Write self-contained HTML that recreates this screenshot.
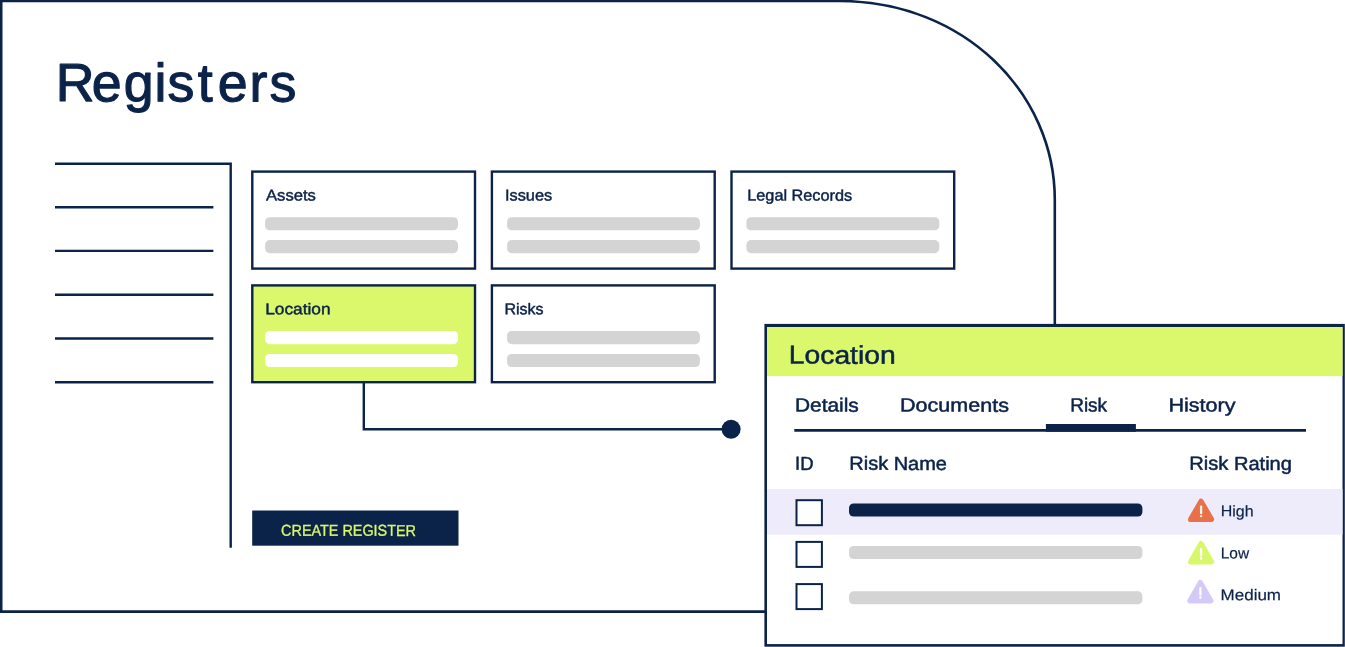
<!DOCTYPE html>
<html lang="en">
<head>
<meta charset="utf-8">
<title>Registers</title>
<style>
  html, body { margin: 0; padding: 0; background: #ffffff; }
  body { width: 1345px; height: 647px; overflow: hidden; }
  svg { display: block; will-change: transform; }
  text { font-family: "Liberation Sans", sans-serif; fill: #0b2349; stroke-linejoin: round; text-rendering: geometricPrecision; }
  .ln { stroke: #0b2349; stroke-width: 2.4; fill: none; }
</style>
</head>
<body>
<svg width="1345" height="647" viewBox="0 0 1345 647">
  <rect x="0" y="0" width="1345" height="647" fill="#ffffff"/>

  <!-- main window outline -->
  <path class="ln" d="M1.2 612 V1.0 H839.1 C964.5 1.0 1054.8 93.5 1054.8 199.7 V325" style="stroke-width:2.6"/>
  <path class="ln" d="M766 611.6 H0" style="stroke-width:2.7"/>

  <!-- title -->
  <text x="55.69 91.75 123.70 154.46 167.62 197.74 217.75 249.49 269.47" y="101.3" font-size="53.6" stroke="#0b2349" stroke-width="1.2" transform="rotate(0.1 182.5 101.3)">Registers</text>

  <!-- sidebar -->
  <path class="ln" d="M55 163.7 H230.7 V547.7"/>
  <path class="ln" d="M55 207.3 H213.4 M55 250.9 H213.4 M55 294.7 H213.4 M55 338.45 H213.4 M55 382.2 H213.4"/>

  <!-- cards row 1 -->
  <g>
    <rect x="252.30" y="171.60" width="222.70" height="97.00" fill="#ffffff" stroke="#0b2349" stroke-width="2.4"/>
    <text x="265.99" y="200.6" font-size="15.7" textLength="49.88" lengthAdjust="spacingAndGlyphs" stroke="#0b2349" stroke-width="0.45" transform="rotate(0.1 290.6 200.6)">Assets</text>
    <rect x="265.1" y="217.2" width="192.90" height="13.10" rx="4.6" fill="#d4d4d4"/>
    <rect x="265.1" y="240.1" width="192.90" height="13.10" rx="4.6" fill="#d4d4d4"/>
  </g>
  <g>
    <rect x="491.90" y="171.60" width="222.80" height="97.00" fill="#ffffff" stroke="#0b2349" stroke-width="2.4"/>
    <text x="505.02" y="200.6" font-size="15.7" textLength="47.14" lengthAdjust="spacingAndGlyphs" stroke="#0b2349" stroke-width="0.45" transform="rotate(0.1 529.0 200.6)">Issues</text>
    <rect x="507.1" y="217.2" width="192.80" height="13.10" rx="4.6" fill="#d4d4d4"/>
    <rect x="507.1" y="240.1" width="192.80" height="13.10" rx="4.6" fill="#d4d4d4"/>
  </g>
  <g>
    <rect x="731.50" y="171.60" width="222.70" height="97.00" fill="#ffffff" stroke="#0b2349" stroke-width="2.4"/>
    <text x="747.29" y="200.6" font-size="15.7" textLength="104.87" lengthAdjust="spacingAndGlyphs" stroke="#0b2349" stroke-width="0.45" transform="rotate(0.1 800.1 200.6)">Legal Records</text>
    <rect x="746.4" y="217.2" width="192.90" height="13.10" rx="4.6" fill="#d4d4d4"/>
    <rect x="746.4" y="240.1" width="192.90" height="13.10" rx="4.6" fill="#d4d4d4"/>
  </g>

  <!-- connector -->
  <path class="ln" d="M363.8 383 V429.2 H731"/>
  <circle cx="731.1" cy="429.2" r="9.5" fill="#0b2349"/>

  <!-- cards row 2 -->
  <g>
    <rect x="252.30" y="285.40" width="222.70" height="96.80" fill="#dbf86c" stroke="#0b2349" stroke-width="2.4"/>
    <text x="265.26" y="314.3" font-size="15.7" textLength="65.34" lengthAdjust="spacingAndGlyphs" stroke="#0b2349" stroke-width="0.45" transform="rotate(0.1 298.1 314.3)">Location</text>
    <rect x="265.1" y="331.0" width="192.90" height="13.20" rx="4.6" fill="#ffffff"/>
    <rect x="265.1" y="353.9" width="192.90" height="13.20" rx="4.6" fill="#ffffff"/>
  </g>
  <g>
    <rect x="491.90" y="285.40" width="222.80" height="96.80" fill="#ffffff" stroke="#0b2349" stroke-width="2.4"/>
    <text x="504.41" y="314.3" font-size="15.7" textLength="39.14" lengthAdjust="spacingAndGlyphs" stroke="#0b2349" stroke-width="0.45" transform="rotate(0.1 524.4 314.3)">Risks</text>
    <rect x="507.1" y="331.0" width="192.80" height="13.20" rx="4.6" fill="#d4d4d4"/>
    <rect x="507.1" y="353.9" width="192.80" height="13.20" rx="4.6" fill="#d4d4d4"/>
  </g>

  <!-- button -->
  <rect x="252.2" y="510.5" width="206.3" height="35.2" fill="#0b2349"/>
  <text x="281.12" y="535.8" font-size="15.8" textLength="134.89" lengthAdjust="spacingAndGlyphs" stroke="#dbf86c" stroke-width="0.3" style="fill:#dbf86c" transform="rotate(0.1 348.6 535.8)">CREATE REGISTER</text>

  <!-- detail panel -->
  <g>
    <rect x="764.4" y="323.9" width="580.4" height="322.8" fill="#0b2349"/>
    <rect x="767.0" y="327.0" width="575.5" height="317.1" fill="#ffffff"/>
    <rect x="767.0" y="327.0" width="575.5" height="49.1" fill="#dbf86c"/>
    <rect x="767.0" y="489.0" width="575.5" height="45.8" fill="#eeebfb"/>

    <text x="788.83" y="363.7" font-size="25.7" textLength="106.85" lengthAdjust="spacingAndGlyphs" stroke="#0b2349" stroke-width="0.5" transform="rotate(0.1 842.5 363.7)">Location</text>

    <text x="794.94" y="411.6" font-size="19.0" textLength="63.87" lengthAdjust="spacingAndGlyphs" stroke="#0b2349" stroke-width="0.5" transform="rotate(0.1 827.3 411.6)">Details</text>
    <text x="900.08" y="411.6" font-size="19.0" textLength="108.84" lengthAdjust="spacingAndGlyphs" stroke="#0b2349" stroke-width="0.5" transform="rotate(0.1 955.0 411.6)">Documents</text>
    <text x="1070.19" y="411.6" font-size="19.0" textLength="36.93" lengthAdjust="spacingAndGlyphs" stroke="#0b2349" stroke-width="0.5" transform="rotate(0.1 1089.5 411.6)">Risk</text>
    <text x="1168.48" y="411.6" font-size="19.0" textLength="67.01" lengthAdjust="spacingAndGlyphs" stroke="#0b2349" stroke-width="0.5" transform="rotate(0.1 1202.8 411.6)">History</text>

    <path class="ln" d="M794.3 430.35 H1306" style="stroke-width:2.8"/>
    <rect x="1045.9" y="424" width="90" height="7.75" fill="#0b2349"/>

    <text x="795.05" y="469.9" font-size="19.0" textLength="18.38" lengthAdjust="spacingAndGlyphs" stroke="#0b2349" stroke-width="0.5" transform="rotate(0.1 804.6 469.9)">ID</text>
    <text x="849.31" y="469.9" font-size="19.0" textLength="97.62" lengthAdjust="spacingAndGlyphs" stroke="#0b2349" stroke-width="0.5" transform="rotate(0.1 898.5 469.9)">Risk Name</text>
    <text x="1189.30" y="469.9" font-size="19.0" textLength="102.64" lengthAdjust="spacingAndGlyphs" stroke="#0b2349" stroke-width="0.5" transform="rotate(0.1 1240.8 469.9)">Risk Rating</text>

    <!-- rows -->
    <rect x="796.5" y="500.2" width="25.4" height="25" fill="#ffffff" stroke="#0b2349" stroke-width="2"/>
    <rect x="849" y="503.5" width="293.4" height="13" rx="4.6" fill="#0b2349"/>
    <rect x="796.5" y="541.9" width="25.4" height="25" fill="#ffffff" stroke="#0b2349" stroke-width="2"/>
    <rect x="849" y="546" width="293.4" height="13" rx="4.6" fill="#d4d4d4"/>
    <rect x="796.5" y="584.1" width="25.4" height="25" fill="#ffffff" stroke="#0b2349" stroke-width="2"/>
    <rect x="849" y="591.3" width="293.4" height="13" rx="4.6" fill="#d4d4d4"/>

    <!-- rating icons -->
    <g transform="translate(1188.0 498.6)">
      <path d="M13.05 2.6 L23.5 20.8 H2.6 Z" fill="#e8714a" stroke="#e8714a" stroke-width="5.2" stroke-linejoin="round"/>
      <rect x="11.95" y="7.0" width="2.3" height="8.6" rx="0.9" fill="#fff6ea"/>
      <circle cx="13.1" cy="17.5" r="1.2" fill="#fff6ea"/>
    </g>
    <text x="1220.69" y="516.4" font-size="15.7" textLength="32.85" lengthAdjust="spacingAndGlyphs" stroke="#0b2349" stroke-width="0.2" transform="rotate(0.1 1237.2 516.4)">High</text>
    <g transform="translate(1188.0 541.0)">
      <path d="M13.05 2.6 L23.5 20.8 H2.6 Z" fill="#d8f76a" stroke="#d8f76a" stroke-width="5.2" stroke-linejoin="round"/>
      <rect x="11.95" y="7.0" width="2.3" height="8.6" rx="0.9" fill="#ffffff"/>
      <circle cx="13.1" cy="17.5" r="1.2" fill="#ffffff"/>
    </g>
    <text x="1220.73" y="558.5" font-size="15.7" textLength="28.33" lengthAdjust="spacingAndGlyphs" stroke="#0b2349" stroke-width="0.2" transform="rotate(0.1 1235.6 558.5)">Low</text>
    <g transform="translate(1187.3 580.0)">
      <path d="M13.05 2.6 L23.5 20.8 H2.6 Z" fill="#d5caf7" stroke="#d5caf7" stroke-width="5.2" stroke-linejoin="round"/>
      <rect x="11.95" y="7.0" width="2.3" height="8.6" rx="0.9" fill="#ffffff"/>
      <circle cx="13.1" cy="17.5" r="1.2" fill="#ffffff"/>
    </g>
    <text x="1220.61" y="600.3" font-size="15.7" textLength="60.41" lengthAdjust="spacingAndGlyphs" stroke="#0b2349" stroke-width="0.2" transform="rotate(0.1 1251.0 600.3)">Medium</text>
  </g>
</svg>
</body>
</html>
